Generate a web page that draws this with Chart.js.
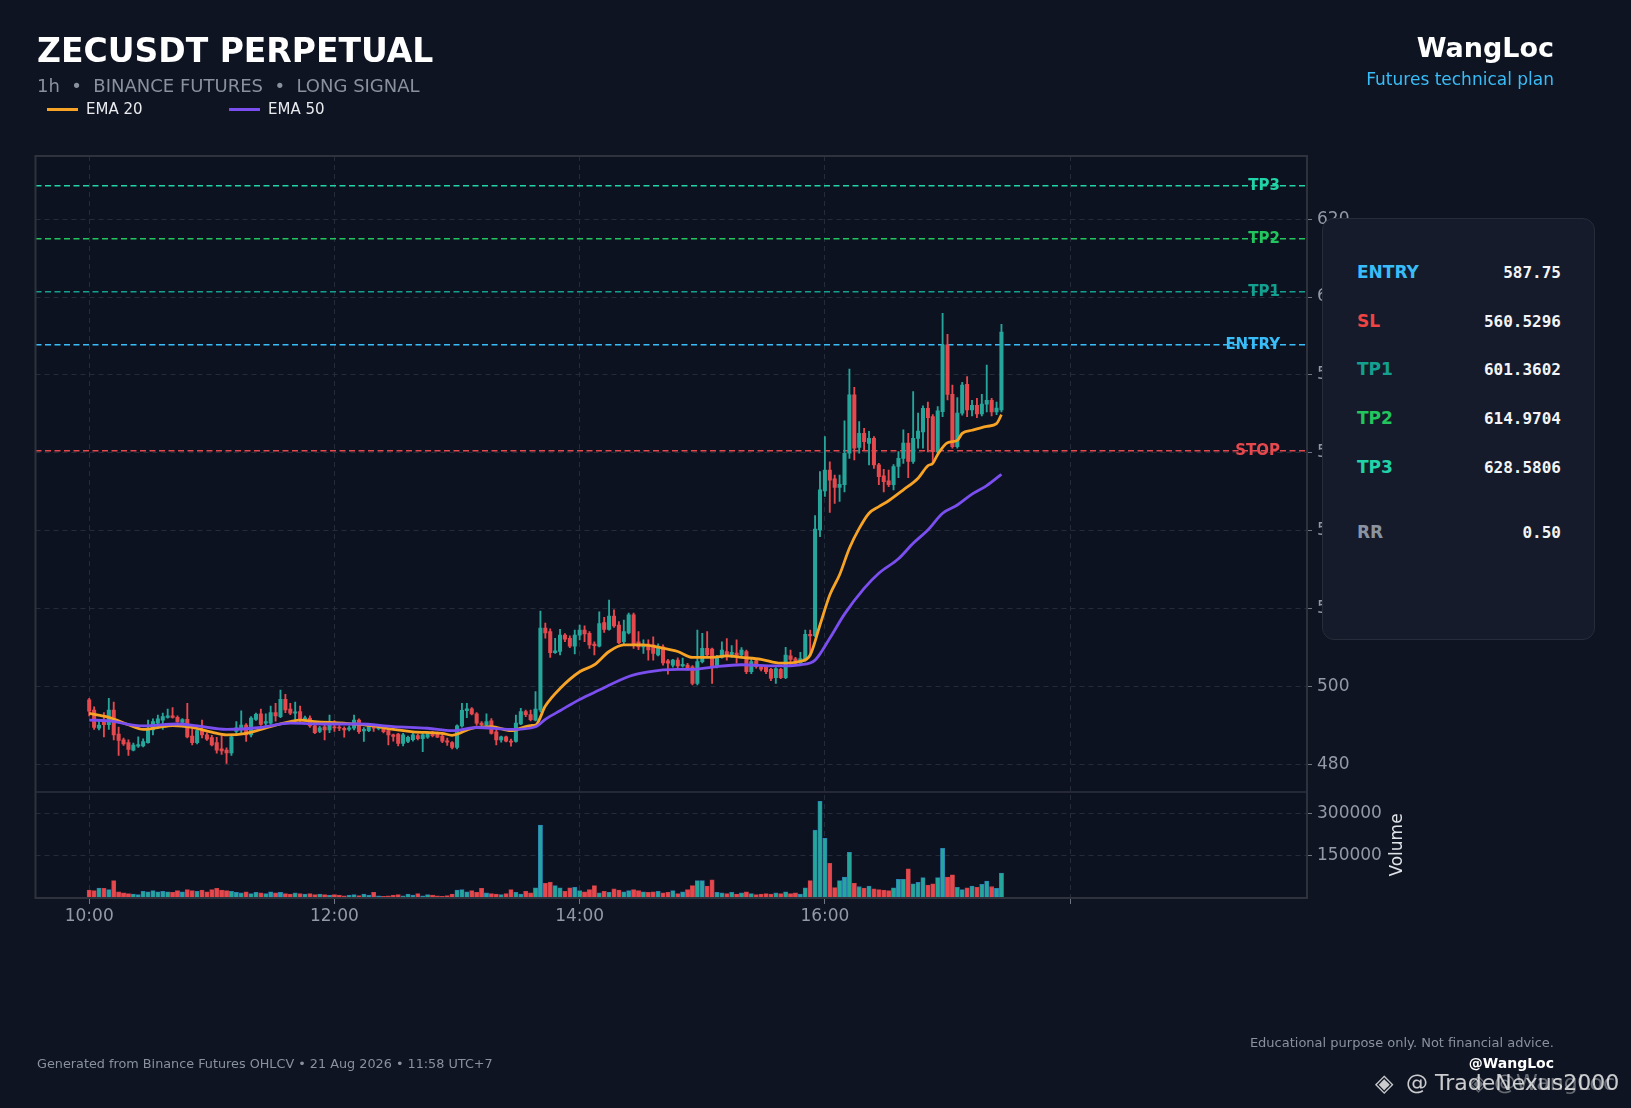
<!DOCTYPE html>
<html>
<head>
<meta charset="utf-8">
<script src="https://cdn.jsdelivr.net/npm/chart.js@4.4.1/dist/chart.umd.min.js"></script>
<style>
html, body { margin: 0; padding: 0; background: #0e1422; }
body { width: 1631px; height: 1108px; position: relative; overflow: hidden; font-family: "DejaVu Sans", sans-serif; }
#chart_wrap { position: absolute; left: 0; top: 0; width: 1631px; height: 1108px; }
.t { position: absolute; white-space: nowrap; line-height: 1; }
.swatch { position: absolute; height: 3px; }
#panel { position: absolute; left: 1322px; top: 218px; width: 273px; height: 422px; box-sizing: border-box;
         background: #151b2a; border: 1.5px solid #262c3a; border-radius: 12px; }
.row { position: absolute; left: 34px; right: 33px; display: flex; justify-content: space-between; align-items: baseline; line-height: 1; }
.row .k { font-size: 17px; font-weight: bold; }
.row .v { font-family: "DejaVu Sans Mono", monospace; font-size: 16px; font-weight: bold; color: #f2f4f7; }
</style>
</head>
<body>
<div id="chart_wrap"><canvas id="price_chart" width="1631" height="1108"></canvas></div>

<div class="t" style="left:37px; top:34px; font-size:33px; font-weight:bold; color:#ffffff;">ZECUSDT PERPETUAL</div>
<div class="t" style="left:37px; top:77px; font-size:18px; color:#8a919e;">1h &nbsp;•&nbsp; BINANCE FUTURES &nbsp;•&nbsp; LONG SIGNAL</div>
<div class="swatch" style="left:47px; top:108px; width:31px; background:#f7a325;"></div>
<div class="t" style="left:86px; top:102px; font-size:15px; color:#e8eaed;">EMA 20</div>
<div class="swatch" style="left:229px; top:108px; width:31px; background:#7b4ef0;"></div>
<div class="t" style="left:268px; top:102px; font-size:15px; color:#e8eaed;">EMA 50</div>

<div class="t" style="right:77px; top:34px; font-size:27px; font-weight:bold; color:#ffffff;">WangLoc</div>
<div class="t" style="right:77px; top:71px; font-size:17px; color:#38bdf8;">Futures technical plan</div>

<div id="panel"></div>

<div class="t" style="left:37px; top:1058px; font-size:12.8px; color:#8a919e;">Generated from Binance Futures OHLCV • 21 Aug 2026 • 11:58 UTC+7</div>
<div class="t" style="right:77px; top:1036px; font-size:13px; color:#8a919e;">Educational purpose only. Not financial advice.</div>
<div class="t" style="right:77px; top:1056px; font-size:14px; font-weight:bold; color:#ffffff;">@WangLoc</div>
<div class="t" style="left:1375px; top:1071px; font-size:24px; color:rgba(235,235,235,0.85);">◈</div>
<div class="t" style="left:1406px; top:1072px; font-size:22px; color:rgba(235,235,235,0.85);">@ TradeNexus2000</div>
<div class="t" style="left:1470px; top:1072px; font-size:22px; color:rgba(235,235,235,0.4);">◈ @WangLoc</div>

<script>
// -- DATA -- //
const candle_open = [
  496.6, 494.0, 489.3, 490.9, 490.2, 494.0, 487.8, 486.3, 485.6, 483.7,
  484.7, 484.8, 485.6, 488.9, 490.6, 491.4, 492.1, 492.5, 492.1, 490.8,
  491.6, 487.3, 485.6, 488.7, 487.6, 486.9, 485.6, 484.0, 483.7, 483.0,
  488.5, 488.9, 490.1, 487.6, 491.6, 493.0, 490.6, 490.6, 493.3, 492.3,
  496.7, 494.2, 493.2, 493.6, 491.6, 491.9, 489.9, 488.5, 489.7, 488.9,
  489.7, 489.6, 489.3, 489.0, 489.3, 491.4, 488.6, 488.7, 489.7, 489.2,
  489.4, 488.7, 487.6, 487.8, 485.4, 485.9, 486.4, 487.4, 486.6, 487.0,
  488.0, 487.8, 487.3, 486.1, 485.6, 484.4, 489.9, 493.8, 494.3, 493.0,
  490.6, 490.1, 491.2, 488.4, 486.3, 487.1, 486.0, 485.9, 490.4, 493.6,
  492.8, 491.4, 494.0, 515.0, 514.1, 508.7, 509.0, 513.2, 512.4, 510.4,
  513.2, 514.5, 513.7, 510.9, 510.4, 516.4, 514.7, 518.1, 515.8, 511.5,
  513.8, 518.4, 511.5, 510.2, 510.9, 510.7, 508.1, 510.2, 506.6, 505.5,
  506.8, 505.3, 505.5, 505.1, 500.8, 506.4, 509.8, 509.6, 505.1, 507.5,
  509.0, 508.1, 508.6, 508.1, 509.0, 503.8, 506.6, 505.1, 505.0, 504.4,
  502.3, 504.4, 502.3, 507.9, 507.1, 506.0, 506.8, 513.4, 513.1, 540.2,
  550.2, 555.6, 553.3, 551.1, 551.8, 559.9, 574.9, 561.4, 565.0, 562.4,
  563.7, 556.9, 554.1, 552.8, 551.8, 556.5, 558.6, 562.5, 557.8, 563.7,
  565.4, 571.4, 569.3, 560.3, 570.6, 587.7, 575.0, 561.6, 570.2, 577.6,
  571.0, 572.2, 570.0, 572.5, 573.5, 570.5, 571.0
];
const candle_high = [
  497.0, 494.8, 491.5, 493.3, 497.0, 496.0, 489.6, 486.8, 486.3, 485.5,
  487.1, 486.6, 491.4, 491.7, 492.7, 493.2, 494.2, 494.6, 492.5, 491.8,
  495.7, 489.7, 489.3, 491.4, 488.1, 487.5, 487.0, 487.5, 484.3, 487.6,
  491.0, 493.8, 490.5, 492.3, 493.2, 494.2, 493.0, 495.0, 495.7, 499.1,
  498.0, 495.7, 496.0, 495.0, 492.4, 492.5, 490.5, 489.8, 490.5, 492.7,
  491.3, 490.0, 489.7, 489.9, 492.7, 491.7, 489.5, 490.5, 490.1, 490.3,
  489.8, 489.3, 487.8, 488.0, 488.0, 487.3, 488.0, 487.8, 488.1, 488.4,
  488.5, 488.3, 488.0, 486.8, 485.9, 490.2, 495.7, 495.7, 494.6, 493.3,
  491.0, 493.0, 491.8, 488.8, 487.3, 487.3, 486.5, 492.7, 494.4, 494.0,
  494.0, 498.7, 519.4, 516.3, 514.8, 512.4, 514.7, 513.6, 513.0, 514.5,
  515.8, 515.6, 514.1, 511.5, 519.2, 517.8, 522.2, 519.7, 516.7, 517.1,
  518.9, 518.9, 514.1, 512.0, 512.0, 512.8, 511.0, 510.7, 507.0, 507.0,
  507.4, 507.3, 506.0, 505.4, 514.5, 513.7, 514.1, 509.9, 508.0, 511.5,
  512.3, 510.5, 512.0, 510.0, 509.4, 507.0, 507.2, 505.5, 505.2, 504.7,
  504.9, 504.7, 510.1, 509.4, 507.5, 508.8, 514.5, 514.5, 543.9, 555.2,
  564.2, 557.7, 554.3, 554.3, 568.2, 581.5, 576.8, 568.0, 566.3, 565.5,
  564.2, 557.3, 555.8, 555.6, 557.0, 560.3, 565.9, 565.0, 575.7, 570.2,
  572.1, 573.0, 569.8, 571.9, 595.8, 590.4, 577.4, 574.2, 578.1, 579.6,
  573.5, 574.0, 575.0, 582.5, 574.0, 573.0, 593.0
];
const candle_low = [
  492.5, 489.0, 488.9, 487.1, 489.0, 486.3, 482.3, 484.9, 482.3, 483.5,
  484.4, 484.5, 485.5, 487.6, 490.0, 489.0, 491.9, 491.9, 490.8, 490.2,
  486.8, 485.0, 485.3, 486.8, 486.2, 484.8, 482.9, 482.6, 480.3, 482.3,
  487.6, 488.1, 485.9, 487.1, 491.3, 490.0, 490.0, 490.3, 491.1, 492.0,
  493.3, 492.8, 491.0, 490.8, 491.2, 489.5, 487.9, 488.2, 486.3, 488.2,
  488.5, 488.7, 487.0, 488.6, 488.9, 488.0, 485.9, 488.4, 488.5, 488.9,
  488.1, 485.0, 486.0, 484.8, 484.8, 485.6, 486.0, 486.3, 483.3, 486.7,
  487.1, 486.9, 485.6, 484.9, 484.0, 484.0, 489.6, 492.0, 492.7, 490.0,
  489.9, 489.9, 487.8, 485.0, 485.7, 485.8, 484.7, 485.7, 490.2, 492.3,
  491.2, 491.2, 493.5, 512.4, 507.5, 508.5, 508.1, 511.5, 510.0, 508.4,
  512.0, 511.5, 509.8, 508.1, 510.2, 513.9, 514.5, 515.2, 511.0, 510.9,
  513.5, 509.8, 509.5, 508.5, 506.8, 506.8, 507.9, 505.5, 503.2, 505.0,
  504.6, 505.0, 504.2, 500.4, 500.4, 506.1, 507.9, 500.8, 504.8, 507.3,
  506.8, 507.5, 506.0, 507.7, 503.3, 503.3, 504.7, 504.0, 503.3, 501.5,
  500.8, 502.0, 502.0, 505.1, 505.6, 505.5, 506.5, 508.0, 512.8, 538.5,
  548.8, 544.7, 547.0, 547.5, 550.0, 558.6, 558.2, 559.9, 560.7, 556.9,
  556.0, 551.8, 550.0, 551.3, 550.5, 553.6, 557.3, 553.6, 557.3, 561.2,
  561.2, 560.3, 557.7, 560.0, 569.3, 573.6, 561.2, 561.2, 569.7, 569.3,
  569.5, 569.0, 569.5, 570.5, 569.5, 569.8, 570.5
];
const candle_close = [
  493.7, 489.5, 490.1, 490.2, 494.0, 487.6, 486.2, 485.3, 483.9, 485.0,
  485.1, 485.9, 488.9, 491.0, 491.7, 492.3, 492.5, 492.1, 491.0, 491.5,
  487.1, 485.6, 488.7, 487.6, 486.5, 485.0, 483.7, 483.5, 483.0, 487.1,
  489.4, 490.1, 487.6, 491.9, 492.9, 490.3, 491.0, 493.3, 492.5, 496.7,
  494.0, 493.2, 493.5, 491.6, 492.0, 489.9, 488.2, 489.4, 488.9, 490.1,
  489.4, 489.3, 488.9, 489.4, 491.4, 488.4, 489.0, 489.9, 489.3, 490.0,
  488.4, 487.6, 487.2, 485.4, 487.6, 487.0, 487.6, 486.6, 487.6, 488.0,
  487.4, 487.0, 486.0, 485.7, 484.4, 489.9, 493.9, 494.3, 493.0, 490.6,
  490.2, 491.0, 488.0, 486.3, 487.1, 486.0, 485.7, 490.6, 493.6, 492.8,
  491.5, 494.2, 515.0, 513.8, 508.7, 509.2, 513.2, 512.2, 510.4, 513.2,
  514.5, 513.5, 510.7, 510.5, 516.2, 514.7, 518.1, 515.6, 511.3, 514.1,
  518.4, 510.9, 510.2, 510.4, 509.4, 508.5, 510.4, 506.1, 506.0, 506.8,
  505.3, 505.7, 504.7, 500.8, 506.4, 509.8, 508.1, 505.1, 507.7, 509.4,
  508.1, 508.8, 508.0, 509.4, 503.8, 506.4, 505.1, 504.5, 503.8, 502.1,
  504.6, 502.3, 508.1, 507.0, 506.0, 507.2, 513.4, 513.0, 540.4, 550.5,
  555.6, 553.0, 551.1, 551.9, 559.9, 574.9, 561.2, 565.0, 562.9, 563.7,
  556.9, 553.9, 552.6, 551.8, 556.5, 558.6, 562.5, 557.8, 563.7, 565.6,
  571.4, 569.0, 560.3, 570.8, 587.7, 575.0, 561.6, 570.2, 577.4, 571.0,
  572.2, 570.0, 572.5, 573.5, 570.5, 571.5, 591.0
];
const candle_volume = [
  28000, 26000, 35000, 34000, 30000, 62000, 22000, 18000, 16000, 14000,
  12000, 24000, 22000, 26000, 22000, 24000, 22000, 20000, 26000, 22000,
  30000, 26000, 24000, 28000, 22000, 30000, 34000, 28000, 26000, 24000,
  20000, 18000, 22000, 16000, 20000, 18000, 16000, 22000, 18000, 20000,
  16000, 14000, 18000, 16000, 14000, 16000, 12000, 14000, 12000, 10000,
  12000, 10000, 8000, 10000, 12000, 9000, 14000, 10000, 20000, 8000,
  6000, 8000, 10000, 12000, 8000, 14000, 10000, 16000, 8000, 12000,
  10000, 8000, 6000, 9000, 14000, 28000, 30000, 22000, 26000, 20000,
  34000, 18000, 16000, 14000, 12000, 16000, 30000, 20000, 14000, 24000,
  18000, 36000, 258000, 52000, 56000, 44000, 36000, 24000, 36000, 38000,
  26000, 22000, 30000, 44000, 18000, 24000, 20000, 32000, 28000, 22000,
  26000, 30000, 26000, 22000, 20000, 22000, 24000, 18000, 20000, 26000,
  16000, 22000, 30000, 44000, 62000, 62000, 42000, 64000, 20000, 18000,
  16000, 20000, 14000, 18000, 22000, 16000, 12000, 14000, 16000, 14000,
  18000, 16000, 22000, 16000, 18000, 14000, 36000, 62000, 240000, 342000,
  211000, 123000, 37000, 62000, 74000, 162000, 52000, 40000, 35000, 42000,
  32000, 30000, 28000, 26000, 36000, 66000, 66000, 103000, 50000, 55000,
  72000, 46000, 50000, 72000, 176000, 74000, 82000, 38000, 30000, 36000,
  42000, 38000, 48000, 60000, 40000, 34000, 88000
];

// EMA curves at these candle positions
const ema20_index = [0, 4, 8, 11, 14, 17, 21, 25, 28, 32, 35, 38, 41, 43, 46, 52, 58, 62, 66, 72, 74, 78, 82, 86, 90, 91,
  93, 96, 100, 103, 106, 109, 113, 116, 120, 123, 127, 130, 133, 137, 141, 145, 147, 149, 151, 153, 155, 157, 159,
  161, 163, 166, 169, 171, 172, 173, 175, 177, 178, 180, 183, 185, 186];
const ema20_value = [493.1, 492.1, 490.2, 489.0, 489.5, 490.0, 489.5, 488.3, 487.6, 488.0, 489.0, 490.1, 491.0, 491.4,
  491.0, 490.6, 489.9, 489.0, 488.4, 488.0, 487.5, 489.3, 489.7, 488.7, 490.0, 490.1,
  495.0, 499.5, 503.8, 505.6, 509.0, 510.7, 510.7, 510.1, 509.0, 507.5, 507.5, 507.9, 507.5, 507.0, 506.0, 506.5,
  508.1, 515.8, 523.5, 528.7, 535.5, 540.6, 544.5, 546.2, 547.7, 550.5, 553.5, 556.7, 557.3, 559.6, 562.6, 563.2,
  565.0, 565.8, 566.8, 567.5, 569.8];
const ema50_index = [0, 4, 11, 18, 22, 28, 35, 41, 48, 55, 62, 69, 74, 79, 86, 91, 93, 96, 100, 104, 110, 114, 120,
  123, 127, 133, 140, 145, 148, 151, 154, 158, 161, 165, 168, 171, 174, 177, 180, 183, 186];
const ema50_value = [491.4, 491.2, 489.9, 490.4, 489.9, 489.0, 489.5, 490.6, 490.4, 490.4, 489.7, 489.3, 488.7, 489.5,
  489.0, 489.7, 491.6, 493.8, 496.7, 499.1, 502.6, 503.8, 504.4, 504.4, 505.0, 505.6, 505.3, 505.6, 506.8, 512.4,
  518.6, 525.2, 529.1, 532.8, 536.8, 540.2, 544.5, 546.6, 549.4, 551.6, 554.5];

const level_names = ["TP3", "TP2", "TP1", "ENTRY", "STOP"];
const level_values = [628.5806, 614.9704, 601.3602, 587.75, 560.5296];
const rr_value = 0.50;

const time_ticks = [0, 50, 100, 150, 200];
const time_labels = ["10:00", "12:00", "14:00", "16:00", ""];
const price_ticks = [480, 500, 520, 540, 560, 580, 600, 620];
const volume_ticks = [150000, 300000];

// -- STYLE -- //
const up_color = "#26a69a";
const down_color = "#e5484d";
const level_colors = ["#20d3a8", "#22c55e", "#14a08f", "#38bdf8", "#e5484d"];
const grid_color = "#242b39";
const tick_color = "#939aa6";
const frame_color = "#2d323d";
const plot_bg = "#0c1220";
const x_min = -10.95;
const x_max = 248.3;

Chart.defaults.font.family = '"DejaVu Sans", sans-serif';

// -- SIDE PANEL -- //
const panel = document.getElementById("panel");
const panel_rows = [
  ["ENTRY", level_values[3], "#38bdf8", 45],
  ["SL", level_values[4], "#ef4444", 94],
  ["TP1", level_values[2], "#14a08f", 142],
  ["TP2", level_values[1], "#22c55e", 191],
  ["TP3", level_values[0], "#20d3a8", 240],
  ["RR", rr_value.toFixed(2), "#8b93a1", 305]
];
panel_rows.forEach(function (r) {
  const row = document.createElement("div");
  row.className = "row";
  row.style.top = r[3] + "px";
  row.innerHTML = '<span class="k" style="color:' + r[2] + '">' + r[0] + '</span><span class="v">' + r[1] + '</span>';
  panel.appendChild(row);
});

// -- DATASETS -- //
let body_data = [];
let wick_data = [];
let vol_data = [];
let candle_colors = [];
let vol_borders = [];
for (let i = 0; i < candle_open.length; i++) {
  body_data.push({ x: i, y: [candle_open[i], candle_close[i]] });
  wick_data.push({ x: i, y: [candle_low[i], candle_high[i]] });
  vol_data.push({ x: i, y: candle_volume[i] });
  const up = candle_close[i] >= candle_open[i];
  candle_colors.push(up ? up_color : down_color);
  vol_borders.push(up ? "#2b7cb6" : "#c94046");
}

function PointsOf(idx, vals) {
  return idx.map(function (v, k) { return { x: v, y: vals[k] }; });
}

function FixedTicks(list) {
  return function (s) { s.ticks = list.map(function (v) { return { value: v }; }); };
}

let datasets = [
  { type: "line", data: PointsOf(ema50_index, ema50_value), borderColor: "#7b4ef0", borderWidth: 2.8,
    pointRadius: 0, cubicInterpolationMode: "monotone", yAxisID: "y", order: 0 },
  { type: "line", data: PointsOf(ema20_index, ema20_value), borderColor: "#f7a325", borderWidth: 2.8,
    pointRadius: 0, cubicInterpolationMode: "monotone", yAxisID: "y", order: 1 },
  { type: "bar", data: body_data, backgroundColor: candle_colors, barThickness: 3.4, minBarLength: 1,
    grouped: false, yAxisID: "y", order: 2 },
  { type: "bar", data: wick_data, backgroundColor: candle_colors, barThickness: 1.2,
    grouped: false, yAxisID: "y", order: 3 },
  { type: "bar", data: vol_data, backgroundColor: candle_colors, borderColor: vol_borders, borderWidth: 0.8,
    barThickness: 4.3, grouped: false, yAxisID: "vol", order: 4 }
];
level_values.forEach(function (v, k) {
  datasets.push({ type: "line", data: [{ x: x_min, y: v }, { x: x_max, y: v }], borderColor: level_colors[k],
    borderWidth: 1.6, borderDash: [6, 3.5], pointRadius: 0, yAxisID: "y", order: 5 });
});

// -- PLUGIN: plot background, frame, level labels -- //
const frame_plugin = {
  id: "frame_plugin",
  beforeDraw(chart) {
    const a = chart.chartArea;
    const ctx = chart.ctx;
    ctx.save();
    ctx.fillStyle = plot_bg;
    ctx.fillRect(a.left, a.top, a.right - a.left, a.bottom - a.top);
    ctx.restore();
  },
  afterDraw(chart) {
    const a = chart.chartArea;
    const ctx = chart.ctx;
    const y_scale = chart.scales.y;
    const vol_scale = chart.scales.vol;
    ctx.save();
    ctx.strokeStyle = frame_color;
    ctx.lineWidth = 2;
    ctx.strokeRect(a.left, a.top, a.right - a.left, a.bottom - a.top);
    ctx.lineWidth = 1.5;
    ctx.beginPath();
    ctx.moveTo(a.left, vol_scale.top);
    ctx.lineTo(a.right, vol_scale.top);
    ctx.stroke();

    ctx.font = 'bold 15px "DejaVu Sans"';
    ctx.textAlign = "right";
    ctx.textBaseline = "middle";
    level_names.forEach(function (n, k) {
      ctx.fillStyle = level_colors[k];
      ctx.fillText(n, a.right - 27, y_scale.getPixelForValue(level_values[k]));
    });

    ctx.translate(1398, (vol_scale.top + vol_scale.bottom) / 2);
    ctx.rotate(-Math.PI / 2);
    ctx.textAlign = "center";
    ctx.font = '17px "DejaVu Sans"';
    ctx.fillStyle = "#dfe2e7";
    ctx.fillText("Volume", 0, 0);
    ctx.restore();
  }
};

// -- CHART -- //
const ctx = document.getElementById("price_chart").getContext("2d");
const price_chart = new Chart(ctx, {
  type: "bar",
  data: { datasets: datasets },
  options: {
    responsive: false,
    animation: false,
    layout: { padding: { left: 35.5, top: 156, right: 220, bottom: 170 } },
    plugins: { legend: { display: false }, tooltip: { enabled: false } },
    scales: {
      x: {
        type: "linear", position: "bottom", min: x_min, max: x_max, offset: false,
        grid: { color: grid_color, offset: false, tickLength: 6, tickColor: "#6f7683" },
        border: { display: false, dash: [5, 4] },
        ticks: {
          autoSkip: false, maxRotation: 0, padding: 2, color: tick_color, font: { size: 17 },
          callback: function (v) { const k = time_ticks.indexOf(v); return k < 0 ? "" : time_labels[k]; }
        },
        afterBuildTicks: FixedTicks(time_ticks),
        afterFit: function (s) { s.height = 40; }
      },
      y: {
        type: "linear", position: "right", stack: "panes", stackWeight: 6, min: 472.94, max: 636.2,
        grid: { color: grid_color, tickLength: 5, tickColor: "#6f7683" },
        border: { display: false, dash: [5, 4] },
        ticks: { autoSkip: false, padding: 5, color: tick_color, font: { size: 17 } },
        afterBuildTicks: FixedTicks(price_ticks),
        afterFit: function (s) { s.width = 104; }
      },
      vol: {
        type: "linear", position: "right", stack: "panes", stackWeight: 1, min: 0, max: 375000,
        grid: { color: grid_color, tickLength: 5, tickColor: "#6f7683" },
        border: { display: false, dash: [5, 4] },
        ticks: {
          autoSkip: false, padding: 5, color: tick_color, font: { size: 17 },
          callback: function (v) { return String(v); }
        },
        afterBuildTicks: FixedTicks(volume_ticks),
        afterFit: function (s) { s.width = 104; }
      }
    }
  },
  plugins: [frame_plugin]
});
</script>
</body>
</html>
